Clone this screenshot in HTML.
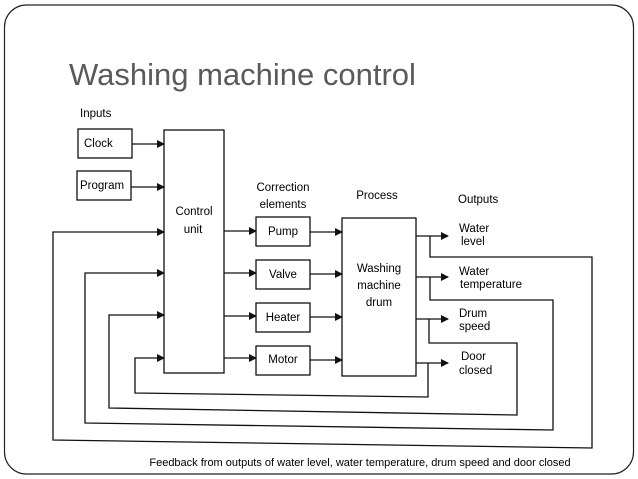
<!DOCTYPE html>
<html><head><style>
html,body{margin:0;padding:0;background:#fff;}
svg{display:block;}
</style></head><body>
<svg width="638" height="479" viewBox="0 0 638 479" xmlns="http://www.w3.org/2000/svg">
<defs>
<marker id="a" markerWidth="8" markerHeight="8" refX="7" refY="4" orient="auto" markerUnits="userSpaceOnUse">
<path d="M0,0 L8,4 L0,8 Z" fill="#111"/>
</marker>
</defs>
<rect x="4.5" y="5" width="629" height="469" rx="22" ry="22" fill="#fff" stroke="#222" stroke-width="1.2"/>
<text x="69" y="85" font-family="Liberation Sans, sans-serif" font-size="31" fill="#5a5a5a">Washing machine control</text>
<g font-family="Liberation Sans, sans-serif" font-size="11.5" fill="#000">
<text x="80" y="117">Inputs</text>
<text x="84" y="147">Clock</text>
<text x="80" y="189">Program</text>
<text x="194" y="215" text-anchor="middle">Control</text>
<text x="193" y="233" text-anchor="middle">unit</text>
<text x="283" y="191" text-anchor="middle">Correction</text>
<text x="283" y="208" text-anchor="middle">elements</text>
<text x="283" y="235" text-anchor="middle">Pump</text>
<text x="283" y="278" text-anchor="middle">Valve</text>
<text x="283" y="321" text-anchor="middle">Heater</text>
<text x="283" y="363" text-anchor="middle">Motor</text>
<text x="377" y="199" text-anchor="middle">Process</text>
<text x="379" y="272" text-anchor="middle">Washing</text>
<text x="379" y="289" text-anchor="middle">machine</text>
<text x="379" y="306" text-anchor="middle">drum</text>
<text x="458" y="203">Outputs</text>
<text x="459" y="232">Water</text>
<text x="461" y="245">level</text>
<text x="459" y="275">Water</text>
<text x="460" y="288">temperature</text>
<text x="459" y="317">Drum</text>
<text x="459" y="330">speed</text>
<text x="461" y="360">Door</text>
<text x="459" y="374">closed</text>
<text x="360" y="466" text-anchor="middle" font-size="11">Feedback from outputs of water level, water temperature, drum speed and door closed</text>
</g>
<g fill="none" stroke="#111" stroke-width="1.3">
<rect x="78" y="129" width="54" height="29"/>
<rect x="77" y="171" width="54" height="29"/>
<rect x="164" y="130" width="60" height="243"/>
<rect x="256" y="217" width="54" height="29"/>
<rect x="256" y="260" width="54" height="29"/>
<rect x="256" y="303" width="54" height="29"/>
<rect x="256" y="346" width="54" height="29"/>
<rect x="342" y="218" width="74" height="158"/>
<line x1="132" y1="144" x2="164" y2="144" marker-end="url(#a)"/>
<line x1="131" y1="187" x2="164" y2="187" marker-end="url(#a)"/>
<line x1="224" y1="231" x2="256" y2="231" marker-end="url(#a)"/>
<line x1="224" y1="273" x2="256" y2="273" marker-end="url(#a)"/>
<line x1="224" y1="316" x2="256" y2="316" marker-end="url(#a)"/>
<line x1="224" y1="358" x2="256" y2="358" marker-end="url(#a)"/>
<line x1="310" y1="232" x2="342" y2="232" marker-end="url(#a)"/>
<line x1="310" y1="274" x2="342" y2="274" marker-end="url(#a)"/>
<line x1="310" y1="317" x2="342" y2="317" marker-end="url(#a)"/>
<line x1="310" y1="360" x2="342" y2="360" marker-end="url(#a)"/>
<line x1="416" y1="236" x2="448" y2="236" marker-end="url(#a)"/>
<line x1="416" y1="277" x2="448" y2="277" marker-end="url(#a)"/>
<line x1="416" y1="319" x2="448" y2="319" marker-end="url(#a)"/>
<line x1="416" y1="363" x2="448" y2="363" marker-end="url(#a)"/>
<polyline points="430,236 430,257 592,257 592,448 53,440 53,232 164,232" marker-end="url(#a)"/>
<polyline points="430,277 430,300 553,300 553,430 85,423 85,273 164,273" marker-end="url(#a)"/>
<polyline points="429,319 429,343 517,343 517,415 109,408 109,315 164,315" marker-end="url(#a)"/>
<polyline points="428,363 428,397 135,393 135,358 164,358" marker-end="url(#a)"/>
</g>
</svg>
</body></html>
